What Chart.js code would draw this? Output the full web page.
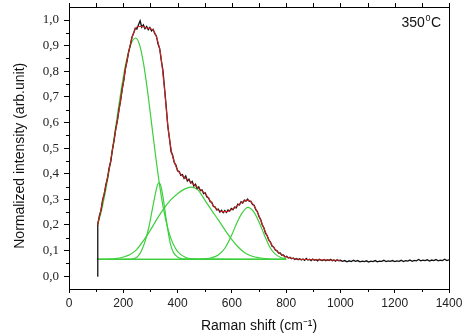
<!DOCTYPE html>
<html><head><meta charset="utf-8">
<script src="https://cdn.jsdelivr.net/npm/chart.js@4.4.1/dist/chart.umd.min.js"></script>
<style>
html,body{margin:0;padding:0;background:#fff;}
#c{display:block;}
</style></head><body>
<canvas id="c" width="474" height="336"></canvas>
<script>
// ---------- Espectro medido (negro) ----------
const specX = [
  104,106,112,118,124,130,136,142,148,154,
  160,166,172,178,184,190,196,202,208,214,
  220,226,232,238,244,250,256,262,268,274,
  280,286,292,298,304,310,316,322,328,334,
  340,346,352,358,364,370,376,382,388,394,
  400,406,412,418,424,430,436,442,448,454,
  460,466,472,478,484,490,496,502,508,514,
  520,526,532,538,544,550,556,562,568,574,
  580,586,592,598,604,610,616,622,628,634,
  640,646,652,658,664,670,676,682,688,694,
  700,706,712,718,724,730,736,742,748,754,
  760,766,772,778,784,790,796,802,808,814,
  820,826,832,838,844,850,856,862,868,874,
  880,886,892,898,904,910,916,922,928,934,
  940,946,952,958,964,970,976,982,988,994,
  1000,1008,1016,1024,1032,1040,1048,1056,1064,1072,
  1080,1088,1096,1104,1112,1120,1128,1136,1144,1152,
  1160,1168,1176,1184,1192,1200,1208,1216,1224,1232,
  1240,1248,1256,1264,1272,1280,1288,1296,1304,1312,
  1320,1328,1336,1344,1352,1360,1368,1376,1384,1392,
  1400
];
const specY = [
  0.0,0.203,0.236,0.258,0.299,0.322,0.358,0.384,0.424,0.447,
  0.493,0.528,0.574,0.604,0.649,0.684,0.731,0.764,0.811,0.84,
  0.877,0.902,0.934,0.948,0.968,0.965,0.982,0.997,0.972,0.981,
  0.966,0.975,0.962,0.971,0.958,0.964,0.947,0.938,0.906,0.889,
  0.842,0.805,0.735,0.664,0.586,0.539,0.486,0.472,0.443,0.434,
  0.411,0.409,0.394,0.397,0.382,0.391,0.372,0.379,0.364,0.37,
  0.352,0.359,0.343,0.349,0.334,0.337,0.322,0.325,0.309,0.306,
  0.291,0.289,0.272,0.271,0.259,0.262,0.25,0.257,0.248,0.256,
  0.249,0.259,0.254,0.264,0.259,0.27,0.267,0.281,0.278,0.291,
  0.286,0.297,0.293,0.301,0.292,0.293,0.28,0.277,0.26,0.252,
  0.232,0.222,0.2,0.189,0.167,0.159,0.141,0.134,0.117,0.114,
  0.102,0.1,0.09,0.091,0.082,0.083,0.075,0.078,0.071,0.074,
  0.068,0.071,0.065,0.069,0.064,0.068,0.063,0.067,0.062,0.069,
  0.063,0.066,0.061,0.067,0.062,0.065,0.06,0.066,0.063,0.061,
  0.065,0.06,0.064,0.061,0.066,0.06,0.063,0.059,0.064,0.06,
  0.062,0.058,0.061,0.056,0.06,0.057,0.062,0.058,0.061,0.056,
  0.059,0.057,0.06,0.055,0.059,0.057,0.061,0.056,0.059,0.058,
  0.062,0.057,0.06,0.058,0.061,0.057,0.06,0.058,0.062,0.057,
  0.061,0.059,0.063,0.058,0.062,0.06,0.065,0.06,0.063,0.061,
  0.064,0.059,0.063,0.061,0.065,0.06,0.063,0.061,0.066,0.061,
  0.064
];

// ---------- Ajuste acumulado (rojo) ----------
const fitX = [105,115,125,135,150,165,180,195,210,225,240,255,270,285,300,312,322,330,337,343,350,357,364,371,380,390,400,415,430,445,460,475,490,505,520,535,550,565,580,595,610,625,640,655,668,680,692,704,716,728,740,752,764,776,790,805,825,850,880,920,960,1000];
const fitY = [0.2,0.245,0.3,0.35,0.43,0.525,0.62,0.72,0.82,0.9,0.955,0.975,0.975,0.97,0.966,0.958,0.935,0.905,0.87,0.82,0.75,0.67,0.59,0.53,0.475,0.44,0.415,0.395,0.382,0.37,0.358,0.345,0.333,0.318,0.295,0.272,0.258,0.252,0.252,0.258,0.266,0.28,0.29,0.297,0.292,0.278,0.255,0.225,0.192,0.162,0.135,0.115,0.1,0.089,0.08,0.074,0.069,0.066,0.065,0.064,0.063,0.062];

// ---------- Componentes (verde) ----------
const gAX = [105,120,135,150,165,180,195,210,225,235,245,260,275,290,305,320,335,350,365,380,395,410,425,440,470,800];
const gAY = [0.197,0.258,0.335,0.428,0.532,0.641,0.745,0.834,0.897,0.921,0.93,0.903,0.828,0.718,0.59,0.462,0.347,0.253,0.183,0.135,0.104,0.086,0.076,0.07,0.067,0.066];
const gBX = [105,230,250,265,280,295,305,315,323,331,339,347,355,365,375,385,400,420,800];
const gBY = [0.066,0.067,0.074,0.095,0.135,0.195,0.25,0.305,0.345,0.364,0.35,0.305,0.245,0.175,0.12,0.092,0.075,0.068,0.066];
const gCX = [105,150,180,200,225,250,275,300,325,350,375,400,425,451,475,500,525,550,575,600,625,650,675,700,730,760,800];
const gCY = [0.066,0.067,0.07,0.075,0.085,0.105,0.14,0.18,0.225,0.265,0.298,0.322,0.34,0.348,0.337,0.298,0.258,0.22,0.18,0.143,0.112,0.09,0.078,0.072,0.068,0.066,0.066];
const gDX = [105,480,500,525,550,575,600,620,640,659,680,700,720,740,760,780,800];
const gDY = [0.066,0.066,0.068,0.072,0.083,0.11,0.162,0.212,0.25,0.269,0.252,0.212,0.16,0.113,0.086,0.073,0.068];
const baseX = [105,800];
const baseY = [0.066,0.066];

// ---------- Ejes ----------
const xTop   = [0,100,200,300,400,500,600,700,800,900,1000,1100,1200,1300,1400];
const xMinor = [100,300,500,700,900,1100,1300];
const yMinor = [0.05,0.15,0.25,0.35,0.45,0.55,0.65,0.75,0.85,0.95];
const TEMP = ['350','0','C'];

const SANS  = '"Liberation Sans", Arial, sans-serif';
const SERIF = '"Liberation Serif", "Times New Roman", serif';
const VERDE = '#3ccf3c';

const pts = (xs, ys) => xs.map((x,i)=>({x, y:ys[i]}));
function linea(data, color, extra){
  return Object.assign({data, borderColor:color, borderWidth:1, pointRadius:0, fill:false}, extra||{});
}
const suave = {cubicInterpolationMode:'monotone', borderWidth:1.2};
// sin relleno extra para etiquetas: el área útil queda fija
const fijo = (w, h) => s => { if(w!=null) s.width = w; if(h!=null) s.height = h; s.paddingTop = s.paddingBottom = s.paddingLeft = s.paddingRight = 0; };

// marco superior, ticks menores y rótulo de temperatura
const extras = {
  id:'extras',
  afterDraw(chart){
    const {ctx, chartArea:a, scales:{x, y}} = chart;
    ctx.save();
    ctx.fillStyle = '#000';
    const top = Math.round(a.top), L = Math.round(a.left), R = Math.round(a.right), B = Math.round(a.bottom);
    ctx.fillRect(L, top, R - L + 1, 1);
    xTop.forEach(v=>{ const p = Math.round(x.getPixelForValue(v)); ctx.fillRect(p, top-4, 1, 4); });
    yMinor.forEach(v=>{ const p = Math.round(y.getPixelForValue(v)); ctx.fillRect(L-3, p, 3, 1); });
    xMinor.forEach(v=>{ const p = Math.round(x.getPixelForValue(v)); ctx.fillRect(p, B, 1, 3); });

    ctx.fillStyle = '#111'; ctx.textBaseline = 'alphabetic'; ctx.textAlign = 'left';
    const big = '14px '+SANS, small = '9px '+SANS;
    ctx.font = big;   const w1 = ctx.measureText(TEMP[0]).width, w3 = ctx.measureText(TEMP[2]).width;
    ctx.font = small; const w2 = ctx.measureText(TEMP[1]).width + 1;
    const by = a.top + 20;
    let tx = a.right - 8 - (w1 + w2 + w3);
    ctx.font = big;   ctx.fillText(TEMP[0], tx, by); tx += w1;
    ctx.font = small; ctx.fillText(TEMP[1], tx + 0.5, by - 6); tx += w2;
    ctx.font = big;   ctx.fillText(TEMP[2], tx, by);
    ctx.restore();
  }
};

new Chart(document.getElementById('c'), {
  type:'line',
  data:{datasets:[
    linea(pts(fitX, fitY), '#cc2626', {cubicInterpolationMode:'monotone', borderWidth:1.1}),
    linea(pts(specX, specY), '#111', {borderWidth:1.3}),
    linea(pts(gAX, gAY), VERDE, suave),
    linea(pts(gBX, gBY), VERDE, suave),
    linea(pts(gCX, gCY), VERDE, suave),
    linea(pts(gDX, gDY), VERDE, suave),
    linea(pts(baseX, baseY), VERDE, {borderWidth:1.2})
  ]},
  options:{
    responsive:false, animation:false, devicePixelRatio:1,
    layout:{padding:{top:7, left:0, right:0, bottom:0}},
    plugins:{legend:{display:false}, tooltip:{enabled:false}},
    scales:{
      x:{type:'linear', position:'bottom', min:0, max:1400,
        ticks:{stepSize:200, color:'#222', padding:3, maxRotation:0, autoSkip:false, font:{family:SANS, size:12},
          callback:v=>String(v)},
        grid:{drawOnChartArea:false, tickLength:4, color:'#000'},
        border:{color:'#000', width:1},
        title:{display:true, text:'Raman shift (cm⁻¹)', color:'#111', font:{family:SANS, size:14}, padding:{top:0, bottom:1}},
        afterFit:fijo(null, 47)},
      y:{type:'linear', position:'left', min:-0.05, max:1.051,
        ticks:{stepSize:0.1, includeBounds:false, padding:5, color:'#222', font:{family:SERIF, size:13},
          callback:v=>v.toFixed(1).replace('.', ',')},
        grid:{drawOnChartArea:false, tickLength:5, color:'#000'},
        border:{color:'#000', width:1},
        title:{display:true, text:'Normalized intensity (arb.unit)    ', color:'#111', font:{family:SANS, size:14}, padding:{top:12, bottom:0}},
        afterFit:fijo(69, null)},
      y2:{type:'linear', position:'right', min:-0.05, max:1.051,
        ticks:{display:false}, grid:{display:false},
        border:{display:true, color:'#000', width:1},
        afterFit:fijo(25, null)}
    }
  },
  plugins:[extras]
});
</script>
</body></html>
